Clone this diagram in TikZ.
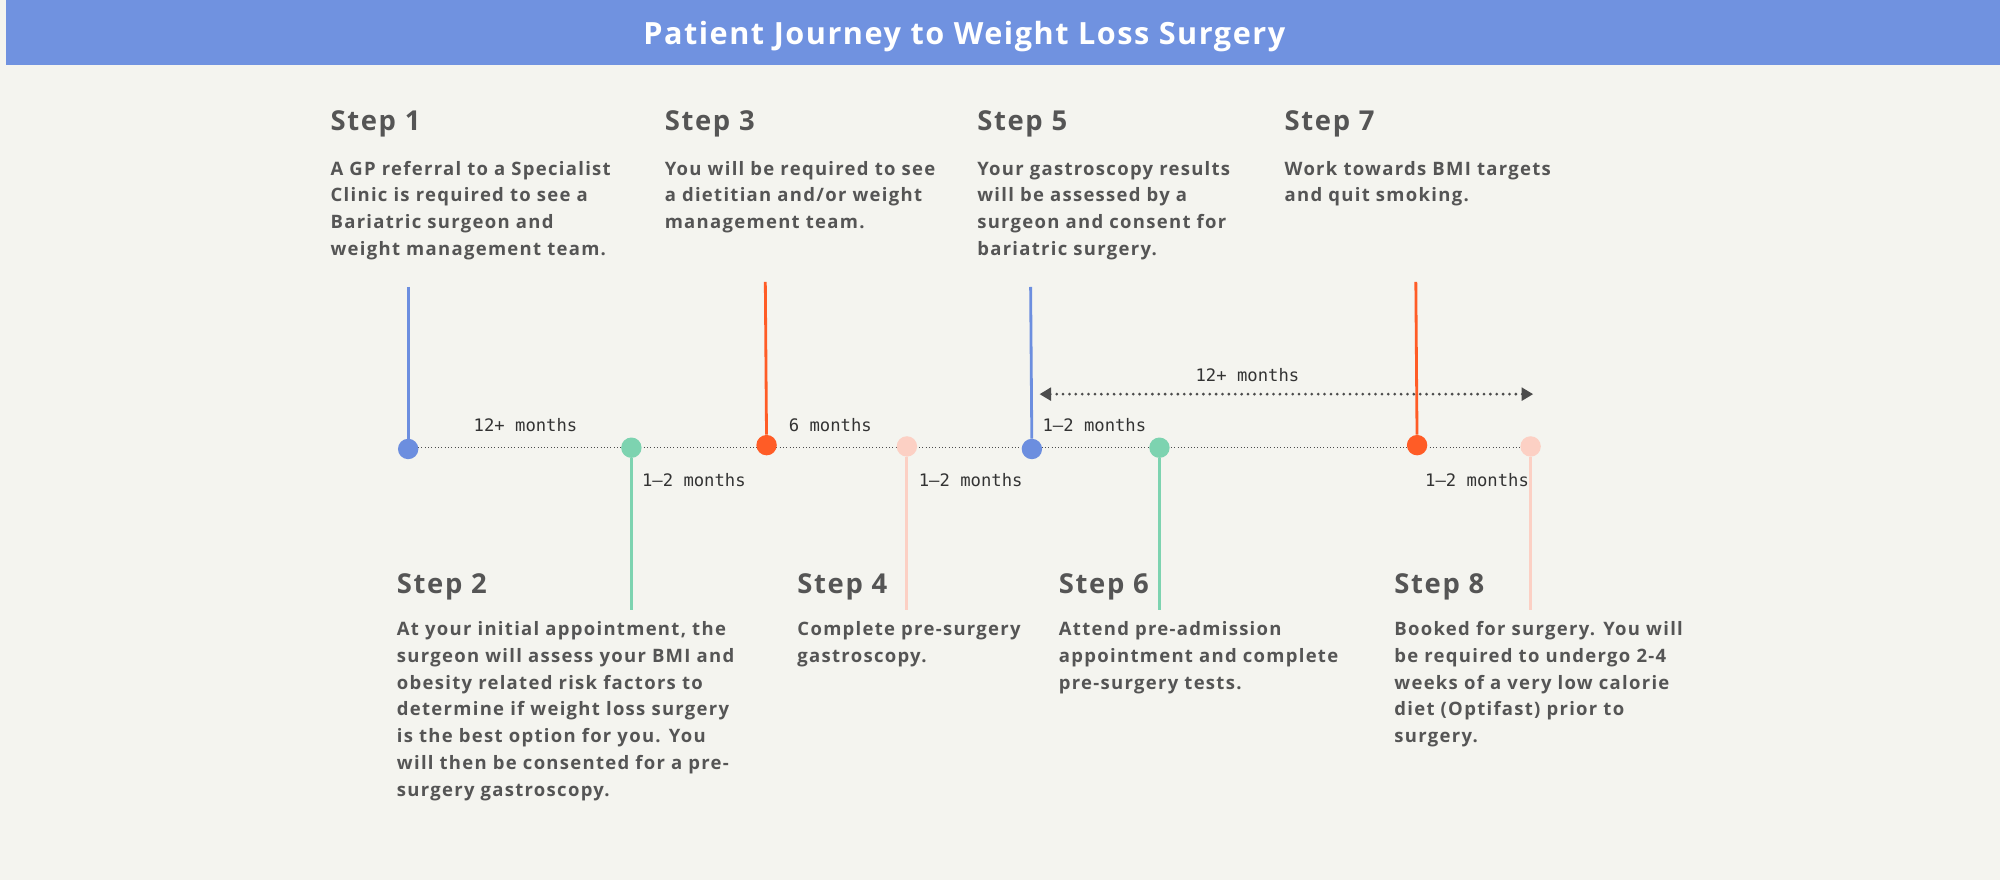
\documentclass[tikz,border=0pt]{standalone}
\usepackage{fontspec}
\setmainfont{Open Sans}
\newfontfamily\titlef[LetterSpace=5]{Open Sans}
\newfontfamily\headf[LetterSpace=6]{Open Sans}
\newfontfamily\bodyf[LetterSpace=7]{Open Sans}
\newfontfamily\monof{DejaVu Sans Mono}
\usetikzlibrary{arrows.meta}
\definecolor{bg}{HTML}{F4F4EF}
\definecolor{bar}{HTML}{7092E0}
\definecolor{cblue}{HTML}{6C8EDF}
\definecolor{cgreen}{HTML}{7DD3B0}
\definecolor{corange}{HTML}{FF5C26}
\definecolor{cpink}{HTML}{FCD0C4}
\definecolor{txt}{HTML}{555555}
\tikzset{
  head/.style={anchor=west,inner sep=0,text=txt,font=\headf\bfseries\fontsize{21.5}{24}\selectfont},
  body/.style={anchor=north west,inner sep=0,text=txt,align=left,font=\bodyf\bfseries\fontsize{14.5}{21}\selectfont},
  lab/.style={inner sep=0,text=black!80,font=\monof\fontsize{13.5}{14}\selectfont},
  dot/.style={circle,minimum size=16pt,inner sep=0,fill=#1},
  stem/.style={line width=2.2pt,draw=#1},
}
\begin{document}
\begin{tikzpicture}[x=1pt,y=-1pt]
\useasboundingbox (0,0) rectangle (1568,690);
\fill[bg] (0,0) rectangle (1568,690);
\fill[bar] (5,0) rectangle (1568,51);
\node[inner sep=0,text=white,font=\titlef\bfseries\fontsize{24}{28}\selectfont] (title) at (756,29) {Patient Journey to Weight Loss Surgery};
% timeline
\coordinate (ts) at (320,351);
\coordinate (te) at (1200,351);
\draw[black!70,line width=0.6pt,dotted] (ts) -- (te);
% stems
\coordinate (s1) at (320,225);
\coordinate (s2) at (495,478);
\coordinate (s3) at (600,221);
\coordinate (s4) at (711,478);
\coordinate (s5) at (808,225);
\coordinate (s6) at (909,478);
\coordinate (s7) at (1110,221);
\coordinate (s8) at (1200,478);
\node[dot=cblue] (d1) at (320,352) {};
\node[dot=cgreen] (d2) at (495,351) {};
\node[dot=corange] (d3) at (601,349) {};
\node[dot=cpink] (d4) at (711,350) {};
\node[dot=cblue] (d5) at (809,352) {};
\node[dot=cgreen] (d6) at (909,351) {};
\node[dot=corange] (d7) at (1111,349) {};
\node[dot=cpink] (d8) at (1200,350) {};
\draw[stem=cblue] (s1) -- (d1);
\draw[stem=cgreen] (d2) -- (s2);
\draw[stem=corange] (s3) -- (d3);
\draw[stem=cpink] (d4) -- (s4);
\draw[stem=cblue] (s5) -- (d5);
\draw[stem=cgreen] (d6) -- (s6);
\draw[stem=corange] (s7) -- (d7);
\draw[stem=cpink] (d8) -- (s8);
% arrow
\coordinate (a1) at (815,309);
\coordinate (a2) at (1202,309);
\draw[black!70,line width=2.4pt,line cap=round,dash pattern=on 0pt off 5pt,{Triangle[length=9pt,width=10pt]}-{Triangle[length=9pt,width=10pt]}] (a1) -- (a2);
\node[lab] (l0) at (978,294) {12+ months};
% labels
\node[lab] (l1) at (412,333) {12+ months};
\node[lab] (l2) at (544,376) {1–2 months};
\node[lab] (l3) at (651,333) {6 months};
\node[lab] (l4) at (761,376) {1–2 months};
\node[lab] (l5) at (858,333) {1–2 months};
\node[lab] (l6) at (1158,376) {1–2 months};
% steps top
\node[head] (h1) at (259,97) {Step 1};
\node[body] (b1) at (259,126) {A GP referral to a Specialist\\Clinic is required to see a\\Bariatric surgeon and\\weight management team.};
\node[head] (h3) at (521,97) {Step 3};
\node[body] (b3) at (521,126) {You will be required to see\\a dietitian and/or weight\\management team.};
\node[head] (h5) at (766,97) {Step 5};
\node[body] (b5) at (766,126) {Your gastroscopy results\\will be assessed by a\\surgeon and consent for\\bariatric surgery.};
\node[head] (h7) at (1007,97) {Step 7};
\node[body] (b7) at (1007,126) {Work towards BMI targets\\and quit smoking.};
% steps bottom
\node[head] (h2) at (311,460) {Step 2};
\node[body] (b2) at (311,487) {At your initial appointment, the\\surgeon will assess your BMI and\\obesity related risk factors to\\determine if weight loss surgery\\is the best option for you. You\\will then be consented for a pre-\\surgery gastroscopy.};
\node[head] (h4) at (625,460) {Step 4};
\node[body] (b4) at (625,487) {Complete pre-surgery\\gastroscopy.};
\node[head] (h6) at (830,460) {Step 6};
\node[body] (b6) at (830,487) {Attend pre-admission\\appointment and complete\\pre-surgery tests.};
\node[head] (h8) at (1093,460) {Step 8};
\node[body] (b8) at (1093,487) {Booked for surgery. You will\\be required to undergo 2-4\\weeks of a very low calorie\\diet (Optifast) prior to\\surgery.};
\end{tikzpicture}
\end{document}
